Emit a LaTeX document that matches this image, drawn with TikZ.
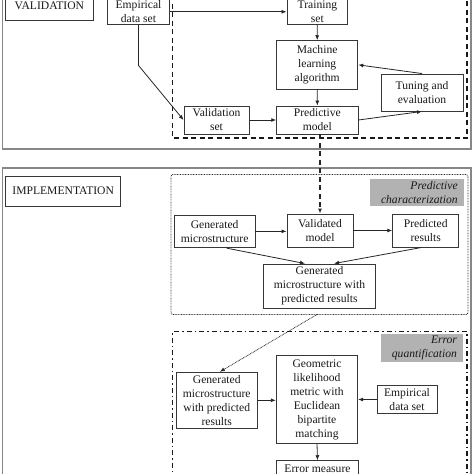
\documentclass[tikz,border=0pt]{standalone}
\usepackage{fontspec}
\setmainfont{Liberation Serif}
\usetikzlibrary{arrows.meta,calc}
\definecolor{boxline}{RGB}{55,55,55}
\definecolor{frameline}{RGB}{135,135,135}
\definecolor{labelfill}{RGB}{178,178,178}
\definecolor{txt}{RGB}{25,25,25}
\begin{document}
\begin{tikzpicture}[x=1pt,y=-1pt,
  font=\fontsize{11.6}{14}\selectfont, text=txt,
  bx/.style={draw=boxline, line width=0.9pt, align=center, inner sep=0pt, fill=white},
  arr/.style={-{Latex[length=5pt,width=4pt]}, line width=0.8pt, draw=black!85},
  tag/.style={fill=labelfill, align=right, inner xsep=6pt, inner ysep=0pt, font=\fontsize{11.6}{14}\selectfont\itshape},
  frame/.style={draw=frameline, line width=1.6pt},
  dashbox/.style={draw=black!90, line width=1.6pt, dash pattern=on 5pt off 3.5pt},
  dotbox/.style={draw=black!80, line width=0.9pt, dash pattern=on 0.8pt off 0.8pt, rounded corners=2pt},
  dashdotbox/.style={draw=black!90, line width=1.4pt, dash pattern=on 5pt off 3pt on 1.5pt off 3pt}
]
\useasboundingbox (0,0) rectangle (474,474);
\clip (0,0) rectangle (474,474);

% outer frames
\draw[frame] (2.5,-5) -- (2.5,149) -- (471,149) -- (471,-5);
\draw[frame] (2.5,480) -- (2.5,168) -- (471,168) -- (471,480);

% group boxes
\draw[dashbox] (172.5,-5) -- (172.5,138) -- (467,138) -- (467,-5);
\draw[dotbox] (171,174.5) rectangle (468,314.5);
\draw[dashdotbox] (172.3,480) -- (172.3,331.7) -- (467,331.7) -- (467,480);
\coordinate (pcb) at (317,314.5);

% validation section
\node[bx, minimum width=87.3pt, minimum height=29.7pt] (valid) at (49.35,5.85) {VALIDATION};
\node[bx, minimum width=61.6pt, minimum height=25.5pt] (emp1) at (138.5,11.75) {Empirical\\data set};
\node[bx, minimum width=60.7pt, minimum height=25.5pt] (ts) at (317.35,11.75) {Training\\set};
\node[bx, minimum width=81.3pt, minimum height=48.3pt] (ml) at (317.15,64.85) {Machine\\learning\\algorithm};
\node[bx, minimum width=82pt, minimum height=37pt] (tune) at (422,92.5) {Tuning and\\evaluation};
\node[bx, minimum width=65pt, minimum height=28pt] (vset) at (216.5,120) {Validation\\set};
\node[bx, minimum width=81.3pt, minimum height=28pt] (pm) at (317.35,120) {Predictive\\model};

% implementation section
\node[bx, minimum width=115pt, minimum height=30pt] (impl) at (63.2,191) {IMPLEMENTATION};
\node[tag, text width=82pt, minimum height=26.7pt] (pctag) at (416.7,192.35) {Predictive\\characterization};
\node[bx, minimum width=80.7pt, minimum height=32.7pt] (gm) at (214.65,231.35) {Generated\\microstructure};
\node[bx, minimum width=66pt, minimum height=33pt] (vm) at (320,230.5) {Validated\\model};
\node[bx, minimum width=66pt, minimum height=33pt] (pr) at (425.7,230.5) {Predicted\\results};
\node[bx, minimum width=111.6pt, minimum height=44.3pt] (gmw) at (319.5,286.15) {Generated\\microstructure with\\predicted results};

% error section
\node[tag, text width=70pt, minimum height=27.7pt] (eqtag) at (422,347.85) {Error\\quantification};
\node[bx, minimum width=80.5pt, minimum height=56pt] (gm2) at (216.75,400.3) {Generated\\microstructure\\with predicted\\results};
\node[bx, minimum width=81.4pt, minimum height=87.6pt] (glm) at (317,399.5) {Geometric\\likelihood\\metric with\\Euclidean\\bipartite\\matching};
\node[bx, minimum width=60pt, minimum height=27.6pt] (emp2) at (407,399.5) {Empirical\\data set};
\node[bx, minimum width=81.6pt, minimum height=15.6pt] (err) at (317.5,468.5) {Error measure};

% connectors
\draw[arr] (emp1.east) -- (ts.west);
\draw[arr] (ts.south) -- (ml.north);
\draw[arr] (ml.south) -- (pm.north);
\draw[arr] (vset.east) -- (pm.west);
\draw[arr] (emp1.south) -- ++(0,40.5) -- (vset.west);
\draw[arr] (pm.east) -- (tune.south);
\draw[arr] (tune.north) -- (ml.east);
\draw[arr, line width=1.3pt, dash pattern=on 5pt off 3.5pt] (pm.south -| vm.north) -- (vm.north);
\draw[arr] (gm.east) -- (gm.east -| vm.west);
\draw[arr] (vm.east) -- (pr.west);
\draw[arr] ($(gm.south)+(12,0)$) -- ($(gmw.north)+(-14.5,0)$);
\draw[arr] ($(pr.south)+(-4,0)$) -- ($(gmw.north)+(14.5,0)$);
\draw[arr, dash pattern=on 0.8pt off 0.8pt] (pcb) -- ($(gm2.north)+(3,0)$);
\draw[arr] (gm2.east) -- (gm2.east -| glm.west);
\draw[arr] (emp2.west) -- (glm.east);
\draw[arr] (glm.south) -- (err.north);
\end{tikzpicture}
\end{document}
